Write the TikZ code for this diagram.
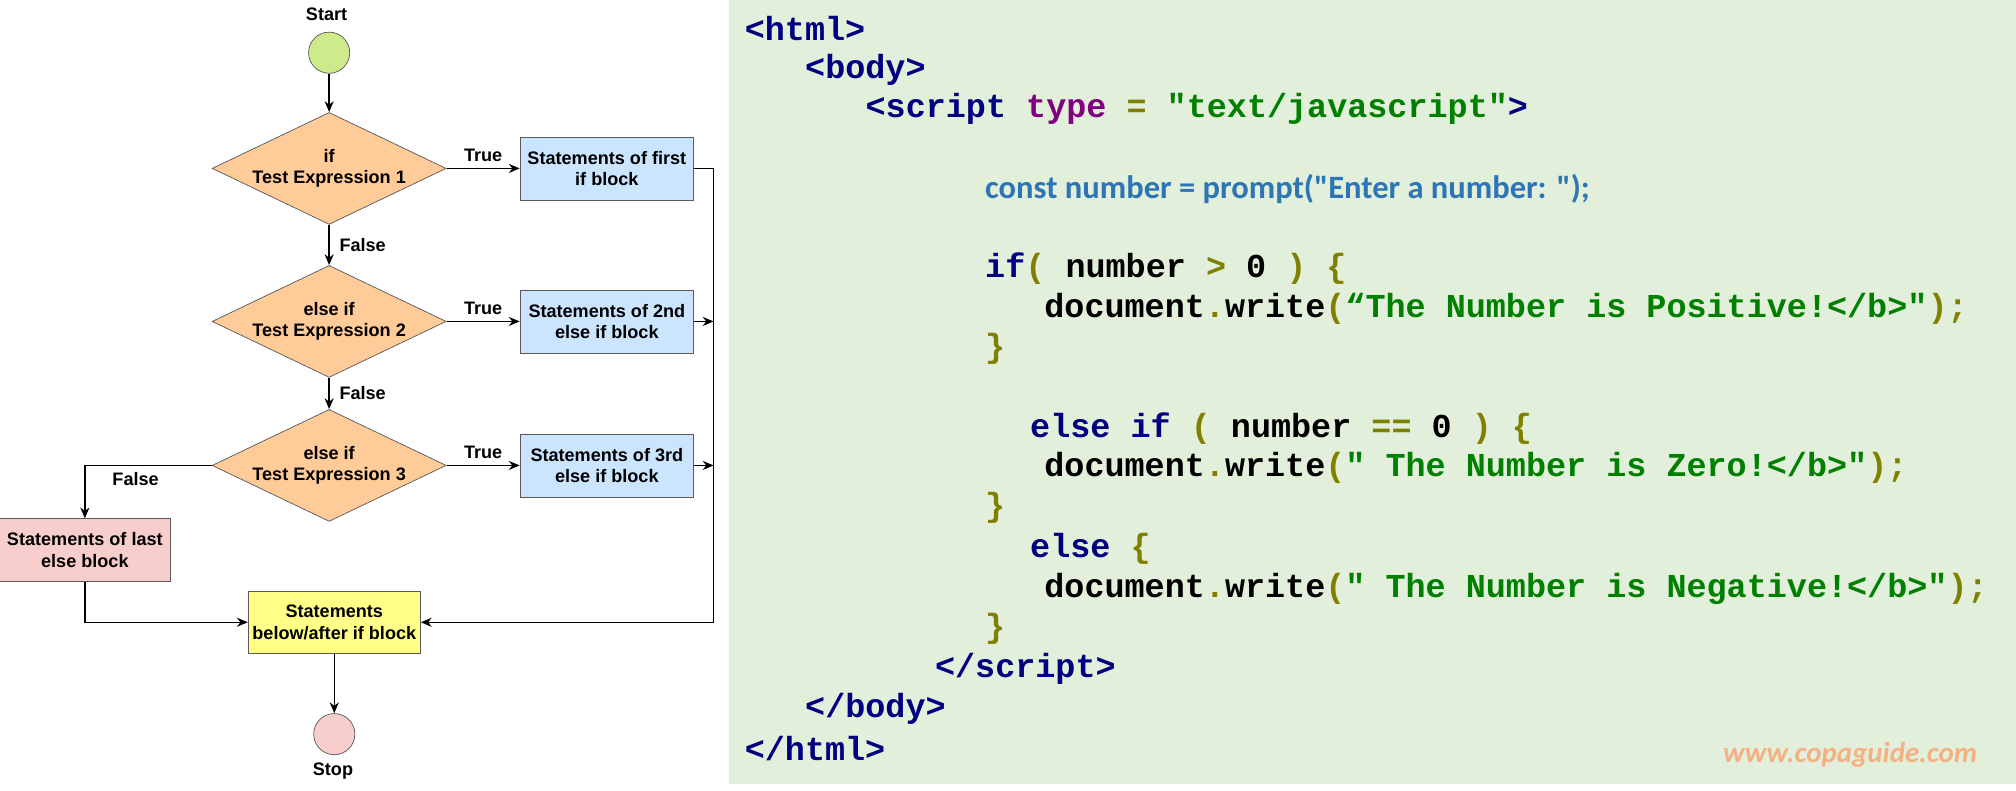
\documentclass[tikz,border=0pt]{standalone}
\usepackage{fontspec}
\usetikzlibrary{positioning,calc,shapes.geometric,arrows.meta}
\newfontfamily\flowfont{Liberation Sans}
\newfontfamily\codefont{Liberation Mono}
\newfontfamily\constfont{Carlito}
\definecolor{bgcode}{HTML}{E2EFDA}
\definecolor{tagblue}{HTML}{000080}
\definecolor{kwpurple}{HTML}{800080}
\definecolor{punct}{HTML}{808000}
\definecolor{strgreen}{HTML}{008000}
\definecolor{constblue}{HTML}{2E75B6}
\definecolor{webor}{HTML}{F4B183}
\definecolor{startgreen}{HTML}{CDEB8B}
\definecolor{decor}{HTML}{FFCC99}
\definecolor{stmtblue}{HTML}{CCE5FF}
\definecolor{elsepink}{HTML}{F8CECC}
\definecolor{afteryel}{HTML}{FFFF88}
\tikzset{
  flow/.style={font=\flowfont\bfseries\fontsize{10}{12}\selectfont,align=center},
  decision/.style={flow,diamond,aspect=2.09,draw=gray!70!black,fill=decor,minimum width=4.55cm,minimum height=2.175cm,inner sep=0pt},
  stmt/.style={flow,rectangle,draw=gray!70!black,minimum width=3.375cm,minimum height=1.225cm,inner sep=1pt},
  term/.style={circle,draw=gray!70!black,minimum size=0.8cm,inner sep=0pt},
  lbl/.style={flow},
  link/.style={-{Stealth[length=6pt,width=5pt]},line width=0.8pt},
  code/.style={anchor=west,inner sep=0pt,font=\codefont\bfseries\fontsize{18.5}{22}\selectfont}
}
\newcommand{\tg}[1]{\textcolor{tagblue}{#1}}
\newcommand{\pu}[1]{\textcolor{punct}{#1}}
\newcommand{\st}[1]{\textcolor{strgreen}{#1}}
\begin{document}
\begin{tikzpicture}[x=0.025cm,y=-0.025cm]
  \useasboundingbox (0,0) rectangle (1568,615);
  % code panel
  \fill[bgcode] (567,0) rectangle (1568,610);
  \node[code] (l1) at (579,22) {\tg{<html>}};
  \node[code] (l2) at (626,54) {\tg{<body>}};
  \node[code] (l3) at (673,85) {\tg{<script} \textcolor{kwpurple}{type} \pu{=} \st{"text/javascript"}\tg{>}};
  \node[code,font=\constfont\bfseries\fontsize{18}{22}\selectfont,text=constblue] (l4) at (766,147) {const number = prompt("Enter a number: ");};
  \node[code] (l5) at (766,209) {\tg{if}\pu{(} number \pu{>} 0 \pu{)} \pu{\{}};
  \node[code] (l6) at (812,240) {document\pu{.}write\pu{(}\st{“The Number is Positive!</b>"}\pu{);}};
  \node[code] (l7) at (766,271) {\pu{\}}};
  \node[code] (l8) at (801,333) {\tg{else if} \pu{(} number \pu{==} 0 \pu{)} \pu{\{}};
  \node[code] (l9) at (812,364) {document\pu{.}write\pu{(}\st{" The Number is Zero!</b>"}\pu{);}};
  \node[code] (l10) at (766,395) {\pu{\}}};
  \node[code] (l11) at (801,427) {\tg{else} \pu{\{}};
  \node[code] (l12) at (812,458) {document\pu{.}write\pu{(}\st{" The Number is Negative!</b>"}\pu{);}};
  \node[code] (l13) at (766,489) {\pu{\}}};
  \node[code] (l14) at (727,520) {\tg{</script>}};
  \node[code] (l15) at (626,551) {\tg{</body>}};
  \node[code] (l16) at (579,582) {\tg{</html>}};
  \node[anchor=east,inner sep=0pt,text=webor,font=\constfont\bfseries\itshape\fontsize{16}{18}\selectfont] (web) at (1538,587) {www.copaguide.com};
  % flowchart
  \node[term,fill=startgreen] (start) at (256,41) {};
  \node[lbl] (startl) at (254,11) {Start};
  \node[decision] (d1) at (256,131) {if\\Test Expression 1};
  \node[decision] (d2) at (256,250) {else if\\Test Expression 2};
  \node[decision] (d3) at (256,362) {else if\\Test Expression 3};
  \node[stmt,fill=stmtblue] (s1) at (472,131) {Statements of first\\if block};
  \node[stmt,fill=stmtblue] (s2) at (472,250) {Statements of 2nd\\else if block};
  \node[stmt,fill=stmtblue] (s3) at (472,362) {Statements of 3rd\\else if block};
  \node[stmt,fill=elsepink,minimum width=3.325cm] (s4) at (66,428) {Statements of last\\else block};
  \node[stmt,fill=afteryel,minimum width=3.35cm,minimum height=1.2cm] (after) at (260,484) {Statements\\below/after if block};
  \node[term,fill=elsepink] (stop) at (260,571) {};
  \node[lbl] (stopl) at (259,600) {Stop};
  \coordinate (rail) at (555,484);
  \draw[link] (start) -- (d1);
  \draw[link] (d1) -- node[lbl,right=2pt] {False} (d2);
  \draw[link] (d2) -- node[lbl,right=2pt] {False} (d3);
  \draw[link] (d1) -- node[lbl,above] {True} (s1);
  \draw[link] (d2) -- node[lbl,above] {True} (s2);
  \draw[link] (d3) -- node[lbl,above] {True} (s3);
  \draw[link] (d3.west) -| node[lbl,pos=0.3,below] {False} (s4.north);
  \draw[link] (s4.south) |- (after.west);
  \draw[link] (s1.east) -| (rail) -- (after.east);
  \draw[link] (s2.east) -- (s2.east -| rail);
  \draw[link] (s3.east) -- (s3.east -| rail);
  \draw[link] (after) -- (stop);
\end{tikzpicture}
\end{document}
